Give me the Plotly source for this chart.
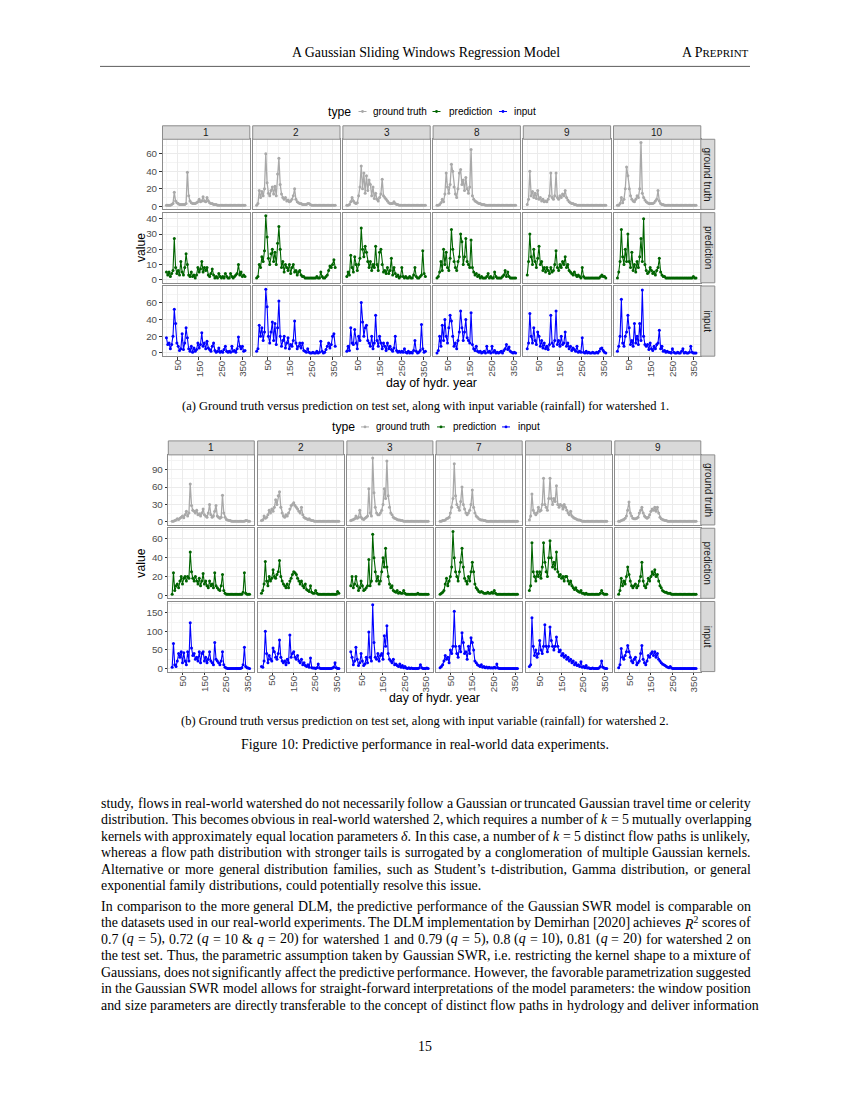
import re
import plotly.graph_objects as go

# ---------------------------------------------------------------- data
DAYS = list(range(1, 366, 6))  # sampled day of hydrological year

TYPES = ["ground truth", "prediction", "input"]
TYPE_COLORS = ["#A9A9A9", "#006400", "#0000FF"]
XTICKS = [50, 150, 250, 350]
XMINOR = [0, 100, 200, 300]
XRANGE = [-17, 383]

W1_STATIONS = ["1", "2", "3", "8", "9", "10"]
W1_YTICKS = [[0, 20, 40, 60], [0, 10, 20, 30, 40], [0, 20, 40, 60, 80]]
W1_TRUTH = [
    [1,1,1,1,2,3,16,6,4,3, 2,2,2,2,2,3,39,12,6,4, 3,3,3,4,5,8,5,6,11,6, 5,10,6,4,3,3,2,2,2,1, 1,1,1,1,1,1,1,1,1,1, 1,1,1,1,1,1,1,1,1,1, 1],
    [1,3,18,10,17,12,20,60,27,15, 12,18,22,14,23,12,37,55,25,14, 10,8,10,6,7,5,6,8,12,20, 8,5,4,3,3,2,2,2,2,3, 3,2,1,1,1,1,1,1,1,1, 1,1,1,1,1,1,1,1,1,1, 1],
    [1,1,2,5,10,6,4,3,4,12, 22,46,20,38,15,35,18,30,25,12, 22,9,15,8,6,10,14,31,12,10, 8,6,4,3,3,3,5,3,2,2, 1,1,1,1,1,1,1,1,1,1, 1,1,1,1,1,1,1,1,1,1, 1],
    [1,1,2,4,8,5,14,38,22,15, 25,48,40,22,14,10,20,38,42,25, 30,18,33,20,15,22,65,12,8,6, 5,4,3,3,2,2,2,1,1,1, 1,1,1,1,1,1,1,1,1,1, 1,1,1,1,1,1,1,1,1,1, 1],
    [2,8,40,12,17,10,15,9,18,8, 10,6,8,5,6,5,8,12,38,10, 8,12,38,10,8,12,10,14,12,18, 10,7,5,4,3,3,2,2,1,1, 1,1,1,1,1,1,1,1,1,1, 1,1,1,1,1,1,1,1,1,1, 1],
    [1,1,3,10,4,8,20,45,35,20, 12,8,6,5,8,12,10,20,73,15, 10,7,5,4,3,3,3,3,4,6, 8,18,6,3,2,2,1,1,1,1, 1,1,1,1,1,1,1,1,1,1, 1,1,1,1,1,1,1,1,1,1, 1],
]
W1_PRED = [
    [5,3,5,2,4,6,27,8,4,6, 3,12,5,3,8,17,10,3,2,5, 2,3,1,3,8,5,7,12,5,8, 6,8,3,2,4,7,3,1,2,1, 4,2,1,2,1,4,2,1,1,4, 2,1,2,3,4,10,3,5,2,3, 2],
    [1,2,10,8,15,12,19,42,28,14, 10,17,20,12,18,10,24,35,20,8, 12,5,10,8,6,10,4,8,10,5, 6,3,5,6,3,2,2,1,1,1, 1,1,1,1,1,1,2,1,1,5, 2,1,1,2,3,6,9,8,10,13, 8],
    [2,5,3,16,8,5,15,10,6,10, 14,34,20,15,22,18,12,8,12,6, 10,8,22,10,6,18,20,10,5,6, 4,8,4,6,14,3,8,4,2,3, 1,2,8,2,1,2,1,1,2,1, 1,3,8,2,1,1,2,3,19,4, 2],
    [1,2,5,12,6,20,10,18,8,6, 14,33,20,12,8,6,12,15,30,25, 10,15,27,12,10,8,26,8,5,3, 4,2,3,1,2,1,1,1,2,4, 1,2,1,1,5,2,1,1,1,1, 2,3,6,2,5,2,1,1,1,1, 1],
    [3,12,30,15,10,20,12,8,14,22, 10,12,6,8,5,8,6,4,8,5, 6,10,19,8,6,10,8,12,10,15, 8,10,6,5,4,3,5,3,2,3, 2,1,8,2,1,1,1,1,1,1, 1,1,1,1,1,1,2,3,2,2, 1],
    [1,5,12,33,15,10,20,12,30,12, 8,18,6,10,5,12,8,15,27,12, 40,10,6,4,5,8,6,4,5,3, 6,8,14,5,3,2,2,1,1,1, 1,1,1,1,1,1,1,1,1,1, 1,1,1,1,1,1,1,1,2,1, 1],
]
W1_INPUT = [
    [18,10,12,5,10,20,52,35,12,8, 3,5,23,4,12,30,18,5,2,8, 1,6,2,4,12,6,10,24,8,12, 5,14,6,4,2,8,12,3,1,2, 6,1,2,1,4,8,2,1,2,1, 8,2,3,1,5,19,8,5,8,2, 3],
    [2,5,33,20,30,15,25,76,55,20, 12,25,37,15,35,10,30,62,20,8, 15,20,6,12,18,5,10,8,15,38, 12,5,8,12,6,12,3,2,1,5, 1,0,0,1,0,0,2,0,1,14, 2,0,1,4,8,12,6,10,20,23, 8],
    [2,8,3,30,12,10,28,12,5,20, 15,60,37,20,30,33,15,12,8,20, 5,12,45,15,8,20,12,5,12,8, 3,12,5,8,4,2,6,20,3,1, 2,1,2,1,5,1,0,2,0,1, 0,3,15,2,0,1,3,34,5,1, 2],
    [0,3,20,8,33,15,40,20,12,30, 45,38,20,8,12,5,15,25,50,30, 15,25,40,18,15,12,48,10,5,3, 8,2,1,2,0,1,2,0,8,1, 2,0,8,1,3,0,1,0,1,2, 0,3,5,10,4,7,2,1,0,1, 0],
    [5,12,47,20,12,30,15,10,25,20, 8,15,6,12,5,8,4,10,45,12, 8,15,50,10,15,8,20,10,12,25, 8,12,5,8,3,6,4,2,8,1, 2,1,18,1,0,2,0,1,0,0, 1,0,0,1,0,2,5,6,3,1, 0],
    [2,8,20,64,12,8,20,25,45,30, 10,15,8,35,12,20,10,35,15,75, 20,10,8,10,4,12,5,3,8,5, 10,12,27,5,8,2,3,1,2,1, 1,0,5,1,0,0,1,0,0,2, 5,0,1,0,0,1,8,1,0,0, 0],
]

W2_STATIONS = ["1", "2", "3", "7", "8", "9"]
W2_YTICKS = [[0, 30, 60, 90], [0, 20, 40, 60], [0, 50, 100, 150]]
W2_TRUTH = [
    [1,1,2,3,5,4,6,8,10,7, 12,18,10,15,65,28,20,18,15,20, 12,14,10,15,22,12,10,8,15,30, 12,8,10,18,28,10,8,6,8,46, 15,8,4,3,2,2,1,1,1,1, 1,1,1,1,1,1,1,2,2,1, 1],
    [2,3,10,6,8,12,20,15,22,18, 25,38,30,45,52,25,15,10,8,12, 10,15,22,28,30,33,28,25,22,18, 15,25,12,8,6,5,4,5,3,2, 2,1,1,1,1,1,1,1,1,1, 1,1,1,1,1,1,1,1,1,1, 1],
    [2,3,4,5,10,6,8,20,8,5, 4,6,8,10,57,15,10,110,50,25, 15,12,12,15,20,30,57,40,105,45, 25,15,12,8,6,5,4,3,3,2, 2,1,1,1,1,1,1,1,1,1, 1,1,1,1,1,1,1,1,1,1, 1],
    [1,1,2,2,3,5,6,8,15,25, 40,100,45,30,25,20,35,60,30,22, 15,12,15,20,30,55,25,15,10,8, 5,4,3,3,2,2,1,1,1,1, 1,1,1,1,1,1,1,1,1,1, 1,1,1,1,1,1,1,1,1,1, 1],
    [3,10,48,20,15,12,15,25,18,20, 30,75,30,25,20,40,75,40,30,40, 35,62,30,25,30,28,22,30,25,20, 15,12,18,10,8,6,5,4,3,3, 2,1,1,1,1,1,1,1,1,1, 1,1,1,1,1,1,1,1,1,1, 1],
    [1,1,2,3,4,6,10,20,34,15, 10,6,5,5,6,8,15,20,25,15, 10,8,6,8,12,18,22,20,25,18, 25,15,8,5,4,3,2,2,1,1, 1,1,1,1,1,1,1,1,1,1, 1,1,1,1,1,1,1,1,1,1, 1],
]
W2_PRED = [
    [1,24,5,10,12,8,15,20,12,18, 20,15,20,18,46,25,18,15,20,15, 12,18,10,15,23,12,15,10,8,15, 10,12,8,24,10,8,6,5,10,22, 5,2,1,1,1,1,1,1,1,1, 1,1,1,1,1,3,24,2,1,1, 1],
    [2,5,12,36,15,10,20,15,18,27, 20,18,22,25,37,20,15,12,10,8, 12,8,15,18,22,25,24,22,18,15, 12,15,10,8,12,6,5,4,10,3, 2,2,5,2,1,1,1,1,1,1, 1,1,1,1,1,1,1,1,1,4, 2],
    [10,20,8,12,20,10,5,8,15,10, 5,6,8,10,38,10,15,65,40,25, 15,20,12,15,25,40,30,50,30,20, 12,8,10,5,4,3,5,2,3,2, 2,5,2,1,1,1,1,1,1,1, 1,1,2,1,1,1,1,1,1,1, 1],
    [1,2,3,5,12,18,10,15,20,30, 68,40,25,20,15,25,35,50,30,18, 15,12,20,15,25,35,25,12,8,6, 4,3,4,3,2,2,2,3,2,2, 3,2,5,2,1,1,1,1,1,1, 1,1,1,1,1,1,1,1,1,1, 1],
    [5,10,56,25,20,15,25,20,25,18, 30,56,35,25,20,40,58,40,30,35, 28,46,25,20,22,18,20,15,20,20, 15,12,15,10,8,6,8,5,4,3, 5,2,2,1,2,1,1,1,1,1, 1,1,1,1,1,2,5,2,1,1, 1],
    [1,5,18,10,15,12,20,30,22,15, 10,8,10,12,8,10,15,20,35,15, 10,8,12,18,15,20,25,22,27,20, 22,15,10,8,5,4,3,3,2,2, 2,1,1,1,1,1,1,1,1,1, 1,1,1,1,1,1,1,1,1,1, 1],
]
W2_INPUT = [
    [3,67,10,5,20,40,30,45,15,42, 20,10,45,20,123,55,35,40,25,30, 20,45,15,40,45,20,30,15,25,45, 20,15,10,70,25,20,15,10,20,45, 10,3,1,0,0,0,0,0,0,0, 0,0,0,0,2,10,57,5,2,1, 0],
    [5,3,20,100,40,15,35,25,20,55, 45,30,25,40,77,30,20,15,20,10, 25,15,90,30,40,45,30,25,35,20, 15,25,10,15,8,5,10,3,28,2, 1,1,0,2,12,1,0,0,0,0, 0,0,0,0,0,1,3,15,2,0, 0],
    [45,30,10,20,57,25,8,15,40,20, 8,12,30,15,98,30,20,172,70,30, 25,40,20,35,40,25,88,60,115,40, 25,20,15,25,10,12,8,5,12,3, 8,2,5,1,0,2,0,1,0,0, 0,0,0,1,10,2,0,0,0,1, 0],
    [2,5,10,20,35,25,30,15,50,40, 60,154,60,40,30,60,45,96,70,40, 45,25,60,40,83,70,50,20,15,10, 8,5,10,3,5,2,4,1,3,1, 2,1,3,1,12,1,0,0,0,0, 0,0,0,0,0,0,0,0,0,0, 0],
    [5,10,137,60,35,50,30,40,75,50, 40,60,118,60,45,60,112,75,60,50, 60,85,60,45,50,35,40,30,35,25, 30,20,25,15,20,10,15,8,10,5, 18,3,5,2,8,1,2,0,0,1, 0,0,0,0,1,5,20,3,1,0, 0],
    [2,10,54,30,25,35,45,62,45,30, 20,15,25,30,10,15,20,40,62,25, 15,10,20,35,30,40,45,35,45,30, 40,25,20,15,12,10,8,5,3,2, 5,1,0,0,0,0,0,0,0,0, 0,0,0,0,0,0,0,0,0,0, 0],
]

HEADER_TITLE = "A Gaussian Sliding Windows Regression Model"
HEADER_RIGHT = "A P<span style='font-size:11px'>REPRINT</span>"
CAPTION_A = "(a) Ground truth versus prediction on test set, along with input variable (rainfall) for watershed 1."
CAPTION_B = "(b) Ground truth versus prediction on test set, along with input variable (rainfall) for watershed 2."
FIG_CAPTION = "Figure 10: Predictive performance in real-world data experiments."
PARA1 = [
    "study, flows in real-world watershed do not necessarily follow a Gaussian or truncated Gaussian travel time or celerity",
    "distribution. This becomes obvious in real-world watershed 2, which requires a number of <i>k</i> = 5 mutually overlapping",
    "kernels with approximately equal location parameters <i>δ</i>. In this case, a number of <i>k</i> = 5 distinct flow paths is unlikely,",
    "whereas a flow path distribution with stronger tails is surrogated by a conglomeration of multiple Gaussian kernels.",
    "Alternative or more general distribution families, such as Student’s t-distribution, Gamma distribution, or general",
    "exponential family distributions, could potentially resolve this issue.",
]
PARA2 = [
    "In comparison to the more general DLM, the predictive performance of the Gaussian SWR model is comparable on",
    "the datasets used in our real-world experiments. The DLM implementation by Demirhan [2020] achieves <i>R</i><sup>2</sup> scores of",
    "0.7 (<i>q</i> = 5), 0.72 (<i>q</i> = 10 &amp; <i>q</i> = 20) for watershed 1 and 0.79 (<i>q</i> = 5), 0.8 (<i>q</i> = 10), 0.81 (<i>q</i> = 20) for watershed 2 on",
    "the test set. Thus, the parametric assumption taken by Gaussian SWR, i.e. restricting the kernel shape to a mixture of",
    "Gaussians, does not significantly affect the predictive performance. However, the favorable parametrization suggested",
    "in the Gaussian SWR model allows for straight-forward interpretations of the model parameters: the window position",
    "and size parameters are directly transferable to the concept of distinct flow paths in hydrology and deliver information",
]
PAGE_NUMBER = "15"

# ---------------------------------------------------------------- styling
PAGE_W, PAGE_H = 850, 1100
OFF = 8  # browser default body margin
FW, FH = PAGE_W - OFF, PAGE_H - OFF
SANS = "Liberation Sans, Arial, Helvetica, sans-serif"
SERIF = "Liberation Serif, Times New Roman, serif"
BORDER = "#8C8C8C"
STRIP_FILL = "#D9D9D9"
TICK_GREY = "#4D4D4D"

fig = go.Figure()
axes_layout = {}
shapes = []
annotations = []
counter = [0]


def fx(x):
    return (x - OFF) / FW


def fy(y):
    return 1 - (y - OFF) / FH


def text(x, y, s, size, family=SANS, color="black", xanchor="center", angle=0, yanchor="middle"):
    annotations.append(dict(
        x=fx(x), y=fy(y), xref="paper", yref="paper", text=s, showarrow=False,
        xanchor=xanchor, yanchor=yanchor, textangle=angle, borderpad=0,
        font=dict(family=family, size=size, color=color)))


def rect(x0, y0, x1, y1, fill, line=BORDER, lw=1):
    shapes.append(dict(type="rect", xref="paper", yref="paper",
                       x0=fx(x0), x1=fx(x1), y0=fy(y0), y1=fy(y1),
                       fillcolor=fill, line=dict(color=line, width=lw), layer="above"))


def facets(stations, series, lefts, width, tops, height, yticks, strip_top):
    for r in range(3):
        peak = max(max(v) for v in series[r])
        yrange = [-0.05 * peak, 1.05 * peak]
        step = yticks[r][1] - yticks[r][0]
        yminor = [t + step / 2 for t in yticks[r]]
        for c in range(len(stations)):
            counter[0] += 1
            k = counter[0]
            sfx = "" if k == 1 else str(k)
            vals = series[r][c]
            fig.add_trace(go.Scatter(
                x=DAYS[:len(vals)], y=vals, xaxis="x" + sfx, yaxis="y" + sfx,
                mode="lines+markers", showlegend=False, hoverinfo="skip",
                line=dict(color=TYPE_COLORS[r], width=1.3 if r == 0 else 1.1),
                marker=dict(color=TYPE_COLORS[r], size=3)))
            x0 = lefts[c]
            y0 = tops[r]
            bottom = r == 2
            left = c == 0
            axes_layout["xaxis" + sfx] = dict(
                domain=[fx(x0), fx(x0 + width)], anchor="y" + sfx, range=XRANGE,
                tickmode="array", tickvals=XTICKS, showticklabels=False,
                ticks="outside" if bottom else "", ticklen=2.5, tickwidth=1, tickcolor="#333333",
                showgrid=True, gridcolor="#EBEBEB", gridwidth=1,
                minor=dict(tickvals=XMINOR, showgrid=True, gridcolor="#F4F4F4", gridwidth=0.6),
                zeroline=False, showline=True, mirror=True, linecolor=BORDER, linewidth=1,
                fixedrange=True)
            axes_layout["yaxis" + sfx] = dict(
                domain=[fy(y0 + height), fy(y0)], anchor="x" + sfx, range=yrange,
                tickmode="array", tickvals=yticks[r], showticklabels=left,
                ticks="outside" if left else "", ticklen=2.5, tickwidth=1, tickcolor="#333333",
                tickfont=dict(family=SANS, size=9.8, color=TICK_GREY),
                showgrid=True, gridcolor="#EBEBEB", gridwidth=1,
                minor=dict(tickvals=yminor, showgrid=True, gridcolor="#F4F4F4", gridwidth=0.6),
                zeroline=False, showline=True, mirror=True, linecolor=BORDER, linewidth=1,
                fixedrange=True)
            if bottom:
                # rotated, right-justified tick labels (ggplot angle = 90, hjust = 1)
                for tv in XTICKS:
                    px = x0 + (tv - XRANGE[0]) / (XRANGE[1] - XRANGE[0]) * width
                    text(px, y0 + height + 2.6, str(tv), 9.8, color=TICK_GREY,
                         angle=-90, yanchor="top")
    for c, st in enumerate(stations):
        rect(lefts[c], strip_top, lefts[c] + width, tops[0], STRIP_FILL)
        text(lefts[c] + width / 2, (strip_top + tops[0]) / 2, st, 10, color="#1A1A1A")
    sx = lefts[-1] + width
    for r, name in enumerate(TYPES):
        rect(sx, tops[r], sx + 14, tops[r] + height, STRIP_FILL)
        text(sx + 7, tops[r] + height / 2, name, 10, color="#1A1A1A", angle=90)


def legend(y, x_type, items):
    text(x_type, y, "type", 12.2, xanchor="left")
    for (sx, lx), color, label in zip(items, TYPE_COLORS, TYPES):
        shapes.append(dict(type="line", xref="paper", yref="paper", x0=fx(sx - 4), x1=fx(sx + 4),
                           y0=fy(y), y1=fy(y), line=dict(color=color, width=1)))
        shapes.append(dict(type="circle", xref="paper", yref="paper", x0=fx(sx - 1.4), x1=fx(sx + 1.4),
                           y0=fy(y - 1.4), y1=fy(y + 1.4), fillcolor=color, line=dict(width=0)))
        text(lx, y, label, 10, xanchor="left")


# Times (metric-compatible with Liberation Serif) advance widths, 1/1000 em
LOWER = dict(zip("abcdefghijklmnopqrstuvwxyz",
                 [444, 500, 444, 500, 444, 333, 500, 500, 278, 278, 500, 278, 778,
                  500, 500, 500, 500, 333, 389, 278, 500, 500, 722, 500, 500, 444]))
UPPER = dict(zip("ABCDEFGHIJKLMNOPQRSTUVWXYZ",
                 [722, 667, 667, 722, 611, 556, 722, 722, 333, 389, 722, 611, 889,
                  722, 722, 556, 722, 667, 556, 611, 722, 722, 944, 722, 722, 611]))
PUNCT = {" ": 250, "(": 333, ")": 333, ",": 250, "-": 333, ".": 250, ":": 278, ";": 278,
         "=": 564, "&": 778, "[": 333, "]": 333, "’": 333, "'": 333, "δ": 494}


def char_w(ch):
    if ch in LOWER:
        return LOWER[ch]
    if ch in UPPER:
        return UPPER[ch]
    if ch.isdigit():
        return 500
    return PUNCT.get(ch, 500)


def word_w(tok, size):
    sups = re.findall(r"<sup>(.*?)</sup>", tok)
    base = re.sub(r"<sup>.*?</sup>", "", tok)
    base = re.sub(r"<[^>]+>", "", base).replace("&amp;", "&")
    w = sum(char_w(ch) for ch in base) + 0.7 * sum(char_w(ch) for s in sups for ch in s)
    return w * size / 1000


def paragraph(lines, y0, lead, size=13.9, left=100, right=750):
    for j, ln in enumerate(lines):
        y = y0 + j * lead
        words = ln.split(" ")
        widths = [word_w(w, size) for w in words]
        if j == len(lines) - 1 or len(words) == 1:
            gap = 0.25 * size
        else:
            gap = (right - left - sum(widths)) / (len(words) - 1)
        x = left
        for w, wd in zip(words, widths):
            text(x, y, w, size, family=SERIF, xanchor="left")
            x += wd + gap


# ---------------------------------------------------------------- page
text(426, 53, HEADER_TITLE, 13.9, family=SERIF)
text(749.5, 53, HEADER_RIGHT, 13.9, family=SERIF, xanchor="right")
shapes.append(dict(type="line", xref="paper", yref="paper", x0=fx(100), x1=fx(750),
                   y0=fy(66.5), y1=fy(66.5), line=dict(color="#333333", width=0.8)))

# watershed 1
legend(111.7, 327, [(362.5, 372), (436.5, 448), (503, 513)])
facets(W1_STATIONS, [W1_TRUTH, W1_PRED, W1_INPUT],
       [162.5, 252.7, 342.9, 433.1, 523.3, 613.5], 87.3,
       [139.5, 213.0, 286.5], 70.3, W1_YTICKS, 126.0)
text(140.5, 248, "value", 12.2, angle=-90)
text(431.7, 383.5, "day of hydr. year", 12.3)
text(425, 407, CAPTION_A, 12.5, family=SERIF)

# watershed 2
legend(427.7, 330.7, [(365, 375), (441, 451.7), (506, 517.3)])
facets(W2_STATIONS, [W2_TRUTH, W2_PRED, W2_INPUT],
       [168.3, 257.6, 346.9, 436.2, 525.5, 614.8], 86.0,
       [455.7, 529.2, 602.6], 70.2, W2_YTICKS, 441.7)
text(140.7, 564, "value", 12.2, angle=-90)
text(434.5, 699.5, "day of hydr. year", 12.3)
text(425, 722.5, CAPTION_B, 12.5, family=SERIF)

text(425, 745.5, FIG_CAPTION, 13.9, family=SERIF)

paragraph(PARA1, 805, 16.4)
paragraph(PARA2, 908, 16.5)
text(425, 1048, PAGE_NUMBER, 13.9, family=SERIF)

fig.update_layout(
    width=FW, height=FH, autosize=False,
    margin=dict(l=0, r=0, t=0, b=0, pad=0),
    paper_bgcolor="white", plot_bgcolor="white",
    showlegend=False, shapes=shapes, annotations=annotations,
    **axes_layout)

fig.write_html("out.html")
